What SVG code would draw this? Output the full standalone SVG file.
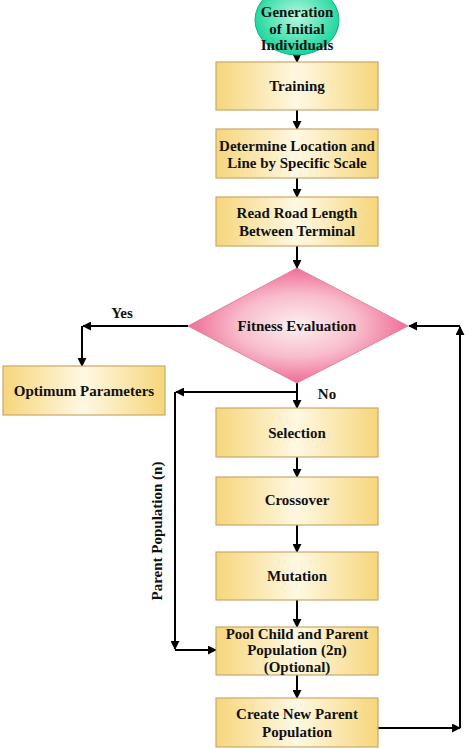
<svg xmlns="http://www.w3.org/2000/svg" width="474" height="748" viewBox="0 0 474 748">
<style>
.box{stroke:#c9a96a;stroke-width:1.2;fill:url(#gBox)}
.t{font-family:"Liberation Serif","DejaVu Serif",serif;font-weight:bold;font-size:15px;fill:#111;text-anchor:middle}
.c{stroke:#000;stroke-width:2;fill:none}
</style>
<defs>
<linearGradient id="gBox" x1="0" y1="0" x2="1" y2="0">
<stop offset="0" stop-color="#f6d67c"/>
<stop offset="0.5" stop-color="#fff8e2"/>
<stop offset="1" stop-color="#f6d67c"/>
</linearGradient>
<radialGradient id="gDia" cx="0.5" cy="0.5" r="0.55">
<stop offset="0" stop-color="#fdf0f2"/>
<stop offset="0.5" stop-color="#f8bccb"/>
<stop offset="1" stop-color="#ee5a8a"/>
</radialGradient>
<radialGradient id="gEll" cx="0.5" cy="0.45" r="0.55">
<stop offset="0" stop-color="#b8f8e0"/>
<stop offset="1" stop-color="#16d49a"/>
</radialGradient>
<marker id="ah" viewBox="0 0 10 10" refX="9" refY="5" markerWidth="4.5" markerHeight="4.5" orient="auto" markerUnits="strokeWidth">
<path d="M0,0 L10,5 L0,10 z" fill="#000"/>
</marker>
</defs>

<g id="connectors">
<line class="c" x1="297" y1="53" x2="297" y2="62" marker-end="url(#ah)"/>
<line class="c" x1="297" y1="110" x2="297" y2="129" marker-end="url(#ah)"/>
<line class="c" x1="297" y1="178" x2="297" y2="197" marker-end="url(#ah)"/>
<line class="c" x1="297" y1="246" x2="297" y2="268" marker-end="url(#ah)"/>
<polyline class="c" points="188,326 83,326" marker-end="url(#ah)"/>
<line class="c" x1="82" y1="326" x2="82" y2="366" marker-end="url(#ah)"/>
<line class="c" x1="297" y1="383" x2="297" y2="408" marker-end="url(#ah)"/>
<polyline class="c" points="297,392 176,392" marker-end="url(#ah)"/>
<polyline class="c" points="175,392 175,649" marker-end="url(#ah)"/>
<polyline class="c" points="175,650 216,650" marker-end="url(#ah)"/>
<line class="c" x1="297" y1="457" x2="297" y2="477" marker-end="url(#ah)"/>
<line class="c" x1="297" y1="525" x2="297" y2="552" marker-end="url(#ah)"/>
<line class="c" x1="297" y1="600" x2="297" y2="627" marker-end="url(#ah)"/>
<line class="c" x1="297" y1="675" x2="297" y2="698" marker-end="url(#ah)"/>
<polyline class="c" points="378,728 460,728" marker-end="url(#ah)"/>
<polyline class="c" points="460,728 460,327" marker-end="url(#ah)"/>
<polyline class="c" points="460,326 409,326" marker-end="url(#ah)"/>
<text class="t" x="122" y="318" font-size="16">Yes</text>
<text class="t" x="327" y="399" font-size="16">No</text>
<text class="t" transform="translate(162,531) rotate(-90)">Parent Population (n)</text>
</g>

<g id="start">
<ellipse cx="297" cy="20" rx="42" ry="35" fill="url(#gEll)" stroke="#0fb080" stroke-width="1"/>
<text class="t" x="297" y="17">Generation</text>
<text class="t" x="297" y="34">of Initial</text>
<text class="t" x="297" y="50">Individuals</text>
</g>

<g id="training">
<rect class="box" x="216" y="62" width="162" height="48"/>
<text class="t" x="297" y="91">Training</text>
</g>

<g id="determine">
<rect class="box" x="216" y="129" width="162" height="49"/>
<text class="t" x="297" y="151">Determine Location and</text>
<text class="t" x="297" y="168">Line by Specific Scale</text>
</g>

<g id="read">
<rect class="box" x="216" y="197" width="162" height="49"/>
<text class="t" x="297" y="218">Read Road Length</text>
<text class="t" x="297" y="236">Between Terminal</text>
</g>

<g id="fitness">
<polygon points="297,268 408,326 297,383 188,326" fill="url(#gDia)" stroke="#d88a9a" stroke-width="1"/>
<text class="t" x="297" y="331">Fitness Evaluation</text>
</g>

<g id="optimum">
<rect class="box" x="3" y="366" width="162" height="49"/>
<text class="t" x="84" y="396">Optimum Parameters</text>
</g>

<g id="selection">
<rect class="box" x="216" y="408" width="162" height="49"/>
<text class="t" x="297" y="438">Selection</text>
</g>

<g id="crossover">
<rect class="box" x="216" y="477" width="162" height="48"/>
<text class="t" x="297" y="505">Crossover</text>
</g>

<g id="mutation">
<rect class="box" x="216" y="552" width="162" height="48"/>
<text class="t" x="297" y="581">Mutation</text>
</g>

<g id="pool">
<rect class="box" x="216" y="627" width="162" height="48"/>
<text class="t" x="297" y="639">Pool Child and Parent</text>
<text class="t" x="297" y="655">Population (2n)</text>
<text class="t" x="297" y="672">(Optional)</text>
</g>

<g id="create">
<rect class="box" x="216" y="698" width="162" height="49"/>
<text class="t" x="297" y="719">Create New Parent</text>
<text class="t" x="297" y="737">Population</text>
</g>
</svg>
